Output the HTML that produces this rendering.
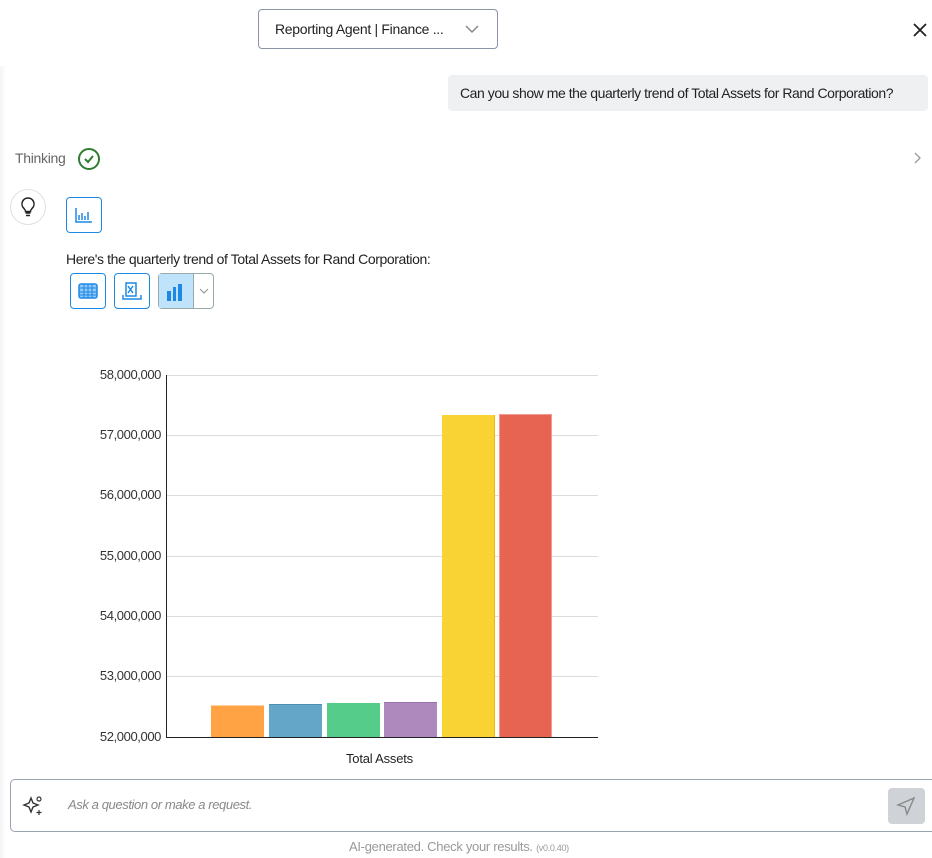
<!DOCTYPE html>
<html><head><meta charset="utf-8"><style>
*{margin:0;padding:0;box-sizing:border-box}
body{width:932px;height:858px;background:#fff;font-family:"Liberation Sans",sans-serif;position:relative;overflow:hidden;color:#222}
.a{position:absolute}
.ib{position:absolute;border:1.5px solid #1e88e5;border-radius:4px;background:#fff}
.yl{position:absolute;right:771px;font-size:13px;color:#333;letter-spacing:-0.4px}
.g{position:absolute;left:166px;width:432px;height:1px;background:#dcdcdc}
.bar{position:absolute;width:53px}
</style></head><body>
<div class="a" style="left:0;top:66px;width:6px;height:792px;background:linear-gradient(90deg,#f4f4f4,#fff)"></div>
<div class="a" style="left:258px;top:9px;width:240px;height:40px;border:1px solid #8a94a6;border-radius:4px;background:#fff;font-size:14px;padding:11px 0 0 16px;color:#222;letter-spacing:-0.3px">Reporting Agent | Finance ...</div>
<svg class="a" style="left:464px;top:23px" width="16" height="12"><path d="M2 3 L8 9 L14 3" fill="none" stroke="#888" stroke-width="1.5"/></svg>
<svg class="a" style="left:912px;top:22px" width="16" height="16"><path d="M2 2L14 14M14 2L2 14" stroke="#222" stroke-width="1.8"/></svg>
<div class="a" style="left:448px;top:75px;width:480px;height:36px;background:#eef0f2;border-radius:4px;font-size:14px;padding:10px 0 0 12px;color:#222;white-space:nowrap;letter-spacing:-0.45px">Can you show me the quarterly trend of Total Assets for Rand Corporation?</div>
<div class="a" style="left:15px;top:150px;font-size:14px;color:#666;letter-spacing:-0.3px">Thinking</div>
<svg class="a" style="left:77px;top:147px" width="24" height="24"><circle cx="12" cy="12" r="10" fill="none" stroke="#2e7d32" stroke-width="2"/><path d="M8 12l3 3 5-6" fill="none" stroke="#2e7d32" stroke-width="2"/></svg>
<svg class="a" style="left:913px;top:152px" width="10" height="12"><path d="M2 1l5 5-5 5" fill="none" stroke="#999" stroke-width="1.3"/></svg>
<div class="a" style="left:10px;top:189px;width:36px;height:36px;border:1px solid #e0e0e0;border-radius:50%;background:#fff"></div>
<svg class="a" style="left:18px;top:196px" width="20" height="22"><path d="M10 2a6 6 0 0 0-4 10.5c1 1 1.5 2 1.5 3h5c0-1 .5-2 1.5-3A6 6 0 0 0 10 2z M7.5 17h5 M8 19.5h4" fill="none" stroke="#222" stroke-width="1.5"/></svg>
<div class="ib" style="left:66px;top:197px;width:36px;height:36px"></div>
<svg class="a" style="left:74px;top:205px" width="20" height="20"><path d="M2 3v14h16 M5 15v-5 M8 15v-7 M11 15v-4 M14 15v-8" stroke="#1e88e5" stroke-width="1.5" fill="none"/></svg>
<div class="a" style="left:66px;top:251px;font-size:14px;color:#222;letter-spacing:-0.4px">Here's the quarterly trend of Total Assets for Rand Corporation:</div>
<div class="ib" style="left:70px;top:273px;width:36px;height:36px"></div>
<svg class="a" style="left:78px;top:283px" width="20" height="16"><rect x="1" y="1" width="18" height="14" rx="2" fill="#90caf9" stroke="#1e88e5" stroke-width="1.5"/><path d="M1 5h18M1 9h18M1 12h18M6 1v14M10 1v14M14 1v14" stroke="#1e88e5" stroke-width="1"/></svg>
<div class="ib" style="left:114px;top:273px;width:36px;height:36px"></div>
<svg class="a" style="left:121px;top:281px" width="22" height="22"><rect x="5" y="2" width="10" height="13" fill="none" stroke="#1e88e5" stroke-width="1.5"/><path d="M7 5l5 7M12 5l-5 7M2 14v4h18v-4" stroke="#1e88e5" stroke-width="1.5" fill="none"/></svg>
<div class="a" style="left:158px;top:273px;width:56px;height:36px;border:1px solid #9aa;border-radius:4px;background:#fff"></div>
<div class="a" style="left:159px;top:274px;width:35px;height:34px;background:#bfe3fb;border-right:1px solid #9aa"></div>
<svg class="a" style="left:164px;top:281px" width="24" height="22"><rect x="3" y="10" width="4" height="10" fill="#1e88e5"/><rect x="9" y="6" width="3" height="14" fill="#1e88e5"/><rect x="14" y="3" width="4" height="17" fill="#1e88e5"/></svg>
<svg class="a" style="left:198px;top:287px" width="12" height="8"><path d="M2 2l4 4 4-4" fill="none" stroke="#999" stroke-width="1.2"/></svg>

<div class="g" style="top:375px"></div>
<div class="g" style="top:435px"></div>
<div class="g" style="top:495px"></div>
<div class="g" style="top:556px"></div>
<div class="g" style="top:616px"></div>
<div class="g" style="top:676px"></div>
<div class="a" style="left:166px;top:375px;width:1px;height:363px;background:#222"></div>
<div class="a" style="left:166px;top:737px;width:432px;height:1px;background:#222"></div>
<div class="yl" style="top:367px">58,000,000</div>
<div class="yl" style="top:427px">57,000,000</div>
<div class="yl" style="top:487px">56,000,000</div>
<div class="yl" style="top:548px">55,000,000</div>
<div class="yl" style="top:608px">54,000,000</div>
<div class="yl" style="top:668px">53,000,000</div>
<div class="yl" style="top:729px">52,000,000</div>
<div class="bar" style="left:211px;top:705px;height:32px;background:#ffa345;border-top:1px solid #ffd0a0"></div>
<div class="bar" style="left:269px;top:704px;height:33px;background:#63a6c7;border-top:1px solid #4a90b5"></div>
<div class="bar" style="left:327px;top:703px;height:34px;background:#55cc89"></div>
<div class="bar" style="left:384px;top:702px;height:35px;background:#ad89bd;border-top:1px solid #9a70b0"></div>
<div class="bar" style="left:442px;top:415px;height:322px;background:#f9d333;border-right:1px solid #f0b800"></div>
<div class="bar" style="left:499px;top:414px;height:323px;background:#e86452;border:1px solid #f09a90;border-bottom:none"></div>
<div class="a" style="left:346px;top:751px;font-size:13px;color:#222;letter-spacing:-0.2px">Total Assets</div>

<div class="a" style="left:10px;top:779px;width:930px;height:53px;border:1px solid #9aa3b0;border-radius:5px;background:#fff"></div>
<svg class="a" style="left:22px;top:795px" width="22" height="22"><path d="M9 3l2 5 5 2-5 2-2 5-2-5-5-2 5-2z" fill="none" stroke="#333" stroke-width="1.4"/><circle cx="17" cy="4" r="2" fill="none" stroke="#333" stroke-width="1.2"/><path d="M17 15v5M14.5 17.5h5" stroke="#333" stroke-width="1.2"/></svg>
<div class="a" style="left:68px;top:797px;font-size:13px;font-style:italic;color:#888;letter-spacing:-0.4px">Ask a question or make a request.</div>
<div class="a" style="left:888px;top:788px;width:37px;height:36px;background:#cfd3d8;border-radius:4px"></div>
<svg class="a" style="left:896px;top:796px" width="20" height="20"><path d="M18 2L2 9l7 2 2 7z" fill="none" stroke="#888" stroke-width="1.4"/></svg>
<div class="a" style="left:349px;top:839px;font-size:13px;color:#999;letter-spacing:-0.3px">AI-generated. Check your results. <span style="font-size:9px">(v0.0.40)</span></div>
</body></html>
